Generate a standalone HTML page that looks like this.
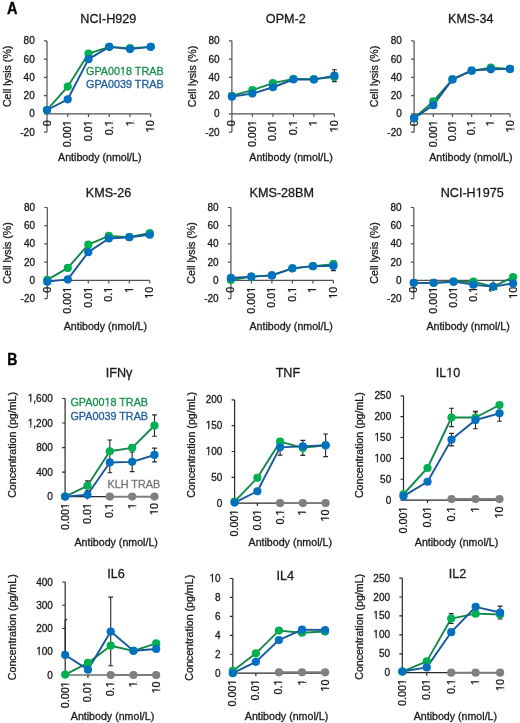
<!DOCTYPE html><html><head><meta charset="utf-8"><style>html,body{margin:0;padding:0;background:#fff;width:520px;height:723px;overflow:hidden}svg{display:block;font-family:"Liberation Sans",sans-serif;filter:blur(0.35px)}text{stroke-width:0.3px}</style></head><body>
<svg width="520" height="723" viewBox="0 0 520 723">
<rect width="520" height="723" fill="#fff"/>
<text transform="translate(6.9 13.5) scale(0.92 1)" font-size="15.8" font-weight="bold" fill="#000" stroke="#000">A</text>
<text transform="translate(7.3 364.7) scale(0.89 1)" font-size="15.8" font-weight="bold" fill="#000" stroke="#000">B</text>
<g stroke="#505050" stroke-width="1.2" fill="none">
<path d="M47 40.9V132.15"/>
<path d="M47 113.9H150.75"/>
<path d="M44 40.9H47M44 59.15H47M44 77.4H47M44 95.65H47M44 113.9H47M44 132.15H47M67.75 113.9V116.9M88.5 113.9V116.9M109.25 113.9V116.9M130 113.9V116.9M150.75 113.9V116.9"/>
</g>
<g transform="translate(34.7 44.4)"><text x="-11.12" y="0" font-size="10.0" fill="#1a1a1a" stroke="#1a1a1a">80</text></g>
<g transform="translate(34.7 62.65)"><text x="-11.12" y="0" font-size="10.0" fill="#1a1a1a" stroke="#1a1a1a">60</text></g>
<g transform="translate(34.7 80.9)"><text x="-11.12" y="0" font-size="10.0" fill="#1a1a1a" stroke="#1a1a1a">40</text></g>
<g transform="translate(34.7 99.15)"><text x="-11.12" y="0" font-size="10.0" fill="#1a1a1a" stroke="#1a1a1a">20</text></g>
<g transform="translate(34.7 117.4)"><text x="-5.56" y="0" font-size="10.0" fill="#1a1a1a" stroke="#1a1a1a">0</text></g>
<g transform="translate(34.7 135.65)"><text x="-14.45" y="0" font-size="10.0" fill="#1a1a1a" stroke="#1a1a1a">-20</text></g>
<g transform="translate(50.5 120.3) rotate(-90) scale(1 0.93)"><text x="-5.98" y="0" font-size="10.75" fill="#1a1a1a" stroke="#1a1a1a">0</text></g>
<g transform="translate(71.25 120.3) rotate(-90) scale(1 0.93)"><text x="-26.9" y="0" font-size="10.75" fill="#1a1a1a" stroke="#1a1a1a">0.001</text><rect x="-5.66" y="-1.57" width="2.31" height="2.36" fill="#fff"/><rect x="-2.25" y="-1.57" width="2.15" height="2.36" fill="#fff"/></g>
<g transform="translate(92 120.3) rotate(-90) scale(1 0.93)"><text x="-20.92" y="0" font-size="10.75" fill="#1a1a1a" stroke="#1a1a1a">0.01</text><rect x="-5.66" y="-1.57" width="2.31" height="2.36" fill="#fff"/><rect x="-2.25" y="-1.57" width="2.15" height="2.36" fill="#fff"/></g>
<g transform="translate(112.75 120.3) rotate(-90) scale(1 0.93)"><text x="-14.94" y="0" font-size="10.75" fill="#1a1a1a" stroke="#1a1a1a">0.1</text><rect x="-5.66" y="-1.57" width="2.31" height="2.36" fill="#fff"/><rect x="-2.25" y="-1.57" width="2.15" height="2.36" fill="#fff"/></g>
<g transform="translate(133.5 120.3) rotate(-90) scale(1 0.93)"><text x="-5.98" y="0" font-size="10.75" fill="#1a1a1a" stroke="#1a1a1a">1</text><rect x="-5.66" y="-1.57" width="2.31" height="2.36" fill="#fff"/><rect x="-2.25" y="-1.57" width="2.15" height="2.36" fill="#fff"/></g>
<g transform="translate(154.25 120.3) rotate(-90) scale(1 0.93)"><text x="-11.96" y="0" font-size="10.75" fill="#1a1a1a" stroke="#1a1a1a">10</text><rect x="-11.64" y="-1.57" width="2.31" height="2.36" fill="#fff"/><rect x="-8.23" y="-1.57" width="2.15" height="2.36" fill="#fff"/></g>
<g transform="translate(108.3 22.9)"><text x="-28.01" y="0" font-size="12.6" fill="#1a1a1a" stroke="#1a1a1a">NCI-H929</text></g>
<g transform="translate(10.8 76.3) rotate(-90)"><text x="-30.77" y="0" font-size="10.65" fill="#1a1a1a" stroke="#1a1a1a">Cell lysis (%)</text></g>
<g transform="translate(99.8 161.2)"><text x="-41.73" y="0" font-size="10.65" fill="#1a1a1a" stroke="#1a1a1a">Antibody (nmol/L)</text></g>
<polyline points="47,109.98 67.75,86.53 88.5,53.68 109.25,46.83 130,48.2 150.75,46.83" fill="none" stroke="#12884A" stroke-width="1.9" stroke-linejoin="round"/>
<polyline points="47,109.98 67.75,99.3 88.5,59.15 109.25,46.83 130,49.11 150.75,46.83" fill="none" stroke="#17589C" stroke-width="1.9" stroke-linejoin="round"/>
<g fill="#00B050">
<circle cx="47" cy="109.98" r="4.1"/>
<circle cx="67.75" cy="86.53" r="4.1"/>
<circle cx="88.5" cy="53.68" r="4.1"/>
<circle cx="109.25" cy="46.83" r="4.1"/>
<circle cx="130" cy="48.2" r="4.1"/>
<circle cx="150.75" cy="46.83" r="4.1"/>
</g>
<g fill="#0070C0">
<circle cx="47" cy="109.98" r="4.1"/>
<circle cx="67.75" cy="99.3" r="4.1"/>
<circle cx="88.5" cy="59.15" r="4.1"/>
<circle cx="109.25" cy="46.83" r="4.1"/>
<circle cx="130" cy="49.11" r="4.1"/>
<circle cx="150.75" cy="46.83" r="4.1"/>
</g>
<g stroke="#505050" stroke-width="1.2" fill="none">
<path d="M231.9 40.8V132.05"/>
<path d="M231.9 113.8H334.4"/>
<path d="M228.9 40.8H231.9M228.9 59.05H231.9M228.9 77.3H231.9M228.9 95.55H231.9M228.9 113.8H231.9M228.9 132.05H231.9M252.4 113.8V116.8M272.9 113.8V116.8M293.4 113.8V116.8M313.9 113.8V116.8M334.4 113.8V116.8"/>
</g>
<g transform="translate(219.6 44.3)"><text x="-11.12" y="0" font-size="10.0" fill="#1a1a1a" stroke="#1a1a1a">80</text></g>
<g transform="translate(219.6 62.55)"><text x="-11.12" y="0" font-size="10.0" fill="#1a1a1a" stroke="#1a1a1a">60</text></g>
<g transform="translate(219.6 80.8)"><text x="-11.12" y="0" font-size="10.0" fill="#1a1a1a" stroke="#1a1a1a">40</text></g>
<g transform="translate(219.6 99.05)"><text x="-11.12" y="0" font-size="10.0" fill="#1a1a1a" stroke="#1a1a1a">20</text></g>
<g transform="translate(219.6 117.3)"><text x="-5.56" y="0" font-size="10.0" fill="#1a1a1a" stroke="#1a1a1a">0</text></g>
<g transform="translate(219.6 135.55)"><text x="-14.45" y="0" font-size="10.0" fill="#1a1a1a" stroke="#1a1a1a">-20</text></g>
<g transform="translate(235.4 120.2) rotate(-90) scale(1 0.93)"><text x="-5.98" y="0" font-size="10.75" fill="#1a1a1a" stroke="#1a1a1a">0</text></g>
<g transform="translate(255.9 120.2) rotate(-90) scale(1 0.93)"><text x="-26.9" y="0" font-size="10.75" fill="#1a1a1a" stroke="#1a1a1a">0.001</text><rect x="-5.66" y="-1.57" width="2.31" height="2.36" fill="#fff"/><rect x="-2.25" y="-1.57" width="2.15" height="2.36" fill="#fff"/></g>
<g transform="translate(276.4 120.2) rotate(-90) scale(1 0.93)"><text x="-20.92" y="0" font-size="10.75" fill="#1a1a1a" stroke="#1a1a1a">0.01</text><rect x="-5.66" y="-1.57" width="2.31" height="2.36" fill="#fff"/><rect x="-2.25" y="-1.57" width="2.15" height="2.36" fill="#fff"/></g>
<g transform="translate(296.9 120.2) rotate(-90) scale(1 0.93)"><text x="-14.94" y="0" font-size="10.75" fill="#1a1a1a" stroke="#1a1a1a">0.1</text><rect x="-5.66" y="-1.57" width="2.31" height="2.36" fill="#fff"/><rect x="-2.25" y="-1.57" width="2.15" height="2.36" fill="#fff"/></g>
<g transform="translate(317.4 120.2) rotate(-90) scale(1 0.93)"><text x="-5.98" y="0" font-size="10.75" fill="#1a1a1a" stroke="#1a1a1a">1</text><rect x="-5.66" y="-1.57" width="2.31" height="2.36" fill="#fff"/><rect x="-2.25" y="-1.57" width="2.15" height="2.36" fill="#fff"/></g>
<g transform="translate(337.9 120.2) rotate(-90) scale(1 0.93)"><text x="-11.96" y="0" font-size="10.75" fill="#1a1a1a" stroke="#1a1a1a">10</text><rect x="-11.64" y="-1.57" width="2.31" height="2.36" fill="#fff"/><rect x="-8.23" y="-1.57" width="2.15" height="2.36" fill="#fff"/></g>
<g transform="translate(285.8 22.9)"><text x="-19.95" y="0" font-size="12.6" fill="#1a1a1a" stroke="#1a1a1a">OPM-2</text></g>
<g transform="translate(195.8 76.5) rotate(-90)"><text x="-30.77" y="0" font-size="10.65" fill="#1a1a1a" stroke="#1a1a1a">Cell lysis (%)</text></g>
<g transform="translate(291 161.25)"><text x="-41.73" y="0" font-size="10.65" fill="#1a1a1a" stroke="#1a1a1a">Antibody (nmol/L)</text></g>
<polyline points="231.9,95.73 252.4,90.08 272.9,83.14 293.4,78.94 313.9,79.12 334.4,77.12" fill="none" stroke="#12884A" stroke-width="1.9" stroke-linejoin="round"/>
<polyline points="231.9,96.64 252.4,93.54 272.9,87.25 293.4,79.49 313.9,79.58 334.4,75.66" fill="none" stroke="#17589C" stroke-width="1.9" stroke-linejoin="round"/>
<path d="M334.4 69.73V81.59M332 69.73H336.8M332 81.59H336.8" stroke="#262626" stroke-width="1.1" fill="none"/>
<g fill="#00B050">
<circle cx="231.9" cy="95.73" r="4.1"/>
<circle cx="252.4" cy="90.08" r="4.1"/>
<circle cx="272.9" cy="83.14" r="4.1"/>
<circle cx="293.4" cy="78.94" r="4.1"/>
<circle cx="313.9" cy="79.12" r="4.1"/>
<circle cx="334.4" cy="77.12" r="4.1"/>
</g>
<g fill="#0070C0">
<circle cx="231.9" cy="96.64" r="4.1"/>
<circle cx="252.4" cy="93.54" r="4.1"/>
<circle cx="272.9" cy="87.25" r="4.1"/>
<circle cx="293.4" cy="79.49" r="4.1"/>
<circle cx="313.9" cy="79.58" r="4.1"/>
<circle cx="334.4" cy="75.66" r="4.1"/>
</g>
<g stroke="#505050" stroke-width="1.2" fill="none">
<path d="M414.1 40.9V132.15"/>
<path d="M414.1 113.9H510"/>
<path d="M411.1 40.9H414.1M411.1 59.15H414.1M411.1 77.4H414.1M411.1 95.65H414.1M411.1 113.9H414.1M411.1 132.15H414.1M433.28 113.9V116.9M452.46 113.9V116.9M471.64 113.9V116.9M490.82 113.9V116.9M510 113.9V116.9"/>
</g>
<g transform="translate(401.8 44.4)"><text x="-11.12" y="0" font-size="10.0" fill="#1a1a1a" stroke="#1a1a1a">80</text></g>
<g transform="translate(401.8 62.65)"><text x="-11.12" y="0" font-size="10.0" fill="#1a1a1a" stroke="#1a1a1a">60</text></g>
<g transform="translate(401.8 80.9)"><text x="-11.12" y="0" font-size="10.0" fill="#1a1a1a" stroke="#1a1a1a">40</text></g>
<g transform="translate(401.8 99.15)"><text x="-11.12" y="0" font-size="10.0" fill="#1a1a1a" stroke="#1a1a1a">20</text></g>
<g transform="translate(401.8 117.4)"><text x="-5.56" y="0" font-size="10.0" fill="#1a1a1a" stroke="#1a1a1a">0</text></g>
<g transform="translate(401.8 135.65)"><text x="-14.45" y="0" font-size="10.0" fill="#1a1a1a" stroke="#1a1a1a">-20</text></g>
<g transform="translate(417.6 120.3) rotate(-90) scale(1 0.93)"><text x="-5.98" y="0" font-size="10.75" fill="#1a1a1a" stroke="#1a1a1a">0</text></g>
<g transform="translate(436.78 120.3) rotate(-90) scale(1 0.93)"><text x="-26.9" y="0" font-size="10.75" fill="#1a1a1a" stroke="#1a1a1a">0.001</text><rect x="-5.66" y="-1.57" width="2.31" height="2.36" fill="#fff"/><rect x="-2.25" y="-1.57" width="2.15" height="2.36" fill="#fff"/></g>
<g transform="translate(455.96 120.3) rotate(-90) scale(1 0.93)"><text x="-20.92" y="0" font-size="10.75" fill="#1a1a1a" stroke="#1a1a1a">0.01</text><rect x="-5.66" y="-1.57" width="2.31" height="2.36" fill="#fff"/><rect x="-2.25" y="-1.57" width="2.15" height="2.36" fill="#fff"/></g>
<g transform="translate(475.14 120.3) rotate(-90) scale(1 0.93)"><text x="-14.94" y="0" font-size="10.75" fill="#1a1a1a" stroke="#1a1a1a">0.1</text><rect x="-5.66" y="-1.57" width="2.31" height="2.36" fill="#fff"/><rect x="-2.25" y="-1.57" width="2.15" height="2.36" fill="#fff"/></g>
<g transform="translate(494.32 120.3) rotate(-90) scale(1 0.93)"><text x="-5.98" y="0" font-size="10.75" fill="#1a1a1a" stroke="#1a1a1a">1</text><rect x="-5.66" y="-1.57" width="2.31" height="2.36" fill="#fff"/><rect x="-2.25" y="-1.57" width="2.15" height="2.36" fill="#fff"/></g>
<g transform="translate(513.5 120.3) rotate(-90) scale(1 0.93)"><text x="-11.96" y="0" font-size="10.75" fill="#1a1a1a" stroke="#1a1a1a">10</text><rect x="-11.64" y="-1.57" width="2.31" height="2.36" fill="#fff"/><rect x="-8.23" y="-1.57" width="2.15" height="2.36" fill="#fff"/></g>
<g transform="translate(470.8 22.9)"><text x="-22.76" y="0" font-size="12.6" fill="#1a1a1a" stroke="#1a1a1a">KMS-34</text></g>
<g transform="translate(378 76.5) rotate(-90)"><text x="-30.77" y="0" font-size="10.65" fill="#1a1a1a" stroke="#1a1a1a">Cell lysis (%)</text></g>
<g transform="translate(470.9 161.25)"><text x="-41.73" y="0" font-size="10.65" fill="#1a1a1a" stroke="#1a1a1a">Antibody (nmol/L)</text></g>
<polyline points="414.1,118.19 433.28,101.4 452.46,79.41 471.64,70.65 490.82,67.64 510,68.91" fill="none" stroke="#12884A" stroke-width="1.9" stroke-linejoin="round"/>
<polyline points="414.1,118.19 433.28,105.14 452.46,79.41 471.64,70.65 490.82,69.37 510,68.91" fill="none" stroke="#17589C" stroke-width="1.9" stroke-linejoin="round"/>
<g fill="#00B050">
<circle cx="414.1" cy="118.19" r="4.1"/>
<circle cx="433.28" cy="101.4" r="4.1"/>
<circle cx="452.46" cy="79.41" r="4.1"/>
<circle cx="471.64" cy="70.65" r="4.1"/>
<circle cx="490.82" cy="67.64" r="4.1"/>
<circle cx="510" cy="68.91" r="4.1"/>
</g>
<g fill="#0070C0">
<circle cx="414.1" cy="118.19" r="4.1"/>
<circle cx="433.28" cy="105.14" r="4.1"/>
<circle cx="452.46" cy="79.41" r="4.1"/>
<circle cx="471.64" cy="70.65" r="4.1"/>
<circle cx="490.82" cy="69.37" r="4.1"/>
<circle cx="510" cy="68.91" r="4.1"/>
</g>
<g stroke="#505050" stroke-width="1.2" fill="none">
<path d="M47.3 207.5V298.62"/>
<path d="M47.3 280.4H149.8"/>
<path d="M44.3 207.5H47.3M44.3 225.72H47.3M44.3 243.95H47.3M44.3 262.17H47.3M44.3 280.4H47.3M44.3 298.62H47.3M67.8 280.4V283.4M88.3 280.4V283.4M108.8 280.4V283.4M129.3 280.4V283.4M149.8 280.4V283.4"/>
</g>
<g transform="translate(35 211)"><text x="-11.12" y="0" font-size="10.0" fill="#1a1a1a" stroke="#1a1a1a">80</text></g>
<g transform="translate(35 229.22)"><text x="-11.12" y="0" font-size="10.0" fill="#1a1a1a" stroke="#1a1a1a">60</text></g>
<g transform="translate(35 247.45)"><text x="-11.12" y="0" font-size="10.0" fill="#1a1a1a" stroke="#1a1a1a">40</text></g>
<g transform="translate(35 265.67)"><text x="-11.12" y="0" font-size="10.0" fill="#1a1a1a" stroke="#1a1a1a">20</text></g>
<g transform="translate(35 283.9)"><text x="-5.56" y="0" font-size="10.0" fill="#1a1a1a" stroke="#1a1a1a">0</text></g>
<g transform="translate(35 302.12)"><text x="-14.45" y="0" font-size="10.0" fill="#1a1a1a" stroke="#1a1a1a">-20</text></g>
<g transform="translate(50.8 286.8) rotate(-90) scale(1 0.93)"><text x="-5.98" y="0" font-size="10.75" fill="#1a1a1a" stroke="#1a1a1a">0</text></g>
<g transform="translate(71.3 286.8) rotate(-90) scale(1 0.93)"><text x="-26.9" y="0" font-size="10.75" fill="#1a1a1a" stroke="#1a1a1a">0.001</text><rect x="-5.66" y="-1.57" width="2.31" height="2.36" fill="#fff"/><rect x="-2.25" y="-1.57" width="2.15" height="2.36" fill="#fff"/></g>
<g transform="translate(91.8 286.8) rotate(-90) scale(1 0.93)"><text x="-20.92" y="0" font-size="10.75" fill="#1a1a1a" stroke="#1a1a1a">0.01</text><rect x="-5.66" y="-1.57" width="2.31" height="2.36" fill="#fff"/><rect x="-2.25" y="-1.57" width="2.15" height="2.36" fill="#fff"/></g>
<g transform="translate(112.3 286.8) rotate(-90) scale(1 0.93)"><text x="-14.94" y="0" font-size="10.75" fill="#1a1a1a" stroke="#1a1a1a">0.1</text><rect x="-5.66" y="-1.57" width="2.31" height="2.36" fill="#fff"/><rect x="-2.25" y="-1.57" width="2.15" height="2.36" fill="#fff"/></g>
<g transform="translate(132.8 286.8) rotate(-90) scale(1 0.93)"><text x="-5.98" y="0" font-size="10.75" fill="#1a1a1a" stroke="#1a1a1a">1</text><rect x="-5.66" y="-1.57" width="2.31" height="2.36" fill="#fff"/><rect x="-2.25" y="-1.57" width="2.15" height="2.36" fill="#fff"/></g>
<g transform="translate(153.3 286.8) rotate(-90) scale(1 0.93)"><text x="-11.96" y="0" font-size="10.75" fill="#1a1a1a" stroke="#1a1a1a">10</text><rect x="-11.64" y="-1.57" width="2.31" height="2.36" fill="#fff"/><rect x="-8.23" y="-1.57" width="2.15" height="2.36" fill="#fff"/></g>
<g transform="translate(108.5 196.7)"><text x="-22.76" y="0" font-size="12.6" fill="#1a1a1a" stroke="#1a1a1a">KMS-26</text></g>
<g transform="translate(10.8 252.9) rotate(-90)"><text x="-30.77" y="0" font-size="10.65" fill="#1a1a1a" stroke="#1a1a1a">Cell lysis (%)</text></g>
<g transform="translate(105.4 330)"><text x="-41.73" y="0" font-size="10.65" fill="#1a1a1a" stroke="#1a1a1a">Antibody (nmol/L)</text></g>
<polyline points="47.3,279.94 67.8,267.92 88.3,244.68 108.8,235.93 129.3,237.21 149.8,233.01" fill="none" stroke="#12884A" stroke-width="1.9" stroke-linejoin="round"/>
<polyline points="47.3,281.68 67.8,279.4 88.3,252.15 108.8,238.48 129.3,237.21 149.8,234.75" fill="none" stroke="#17589C" stroke-width="1.9" stroke-linejoin="round"/>
<g fill="#00B050">
<circle cx="47.3" cy="279.94" r="4.1"/>
<circle cx="67.8" cy="267.92" r="4.1"/>
<circle cx="88.3" cy="244.68" r="4.1"/>
<circle cx="108.8" cy="235.93" r="4.1"/>
<circle cx="129.3" cy="237.21" r="4.1"/>
<circle cx="149.8" cy="233.01" r="4.1"/>
</g>
<g fill="#0070C0">
<circle cx="47.3" cy="281.68" r="4.1"/>
<circle cx="67.8" cy="279.4" r="4.1"/>
<circle cx="88.3" cy="252.15" r="4.1"/>
<circle cx="108.8" cy="238.48" r="4.1"/>
<circle cx="129.3" cy="237.21" r="4.1"/>
<circle cx="149.8" cy="234.75" r="4.1"/>
</g>
<g stroke="#505050" stroke-width="1.2" fill="none">
<path d="M230.9 207.5V298.62"/>
<path d="M230.9 280.4H333.4"/>
<path d="M227.9 207.5H230.9M227.9 225.72H230.9M227.9 243.95H230.9M227.9 262.17H230.9M227.9 280.4H230.9M227.9 298.62H230.9M251.4 280.4V283.4M271.9 280.4V283.4M292.4 280.4V283.4M312.9 280.4V283.4M333.4 280.4V283.4"/>
</g>
<g transform="translate(218.6 211)"><text x="-11.12" y="0" font-size="10.0" fill="#1a1a1a" stroke="#1a1a1a">80</text></g>
<g transform="translate(218.6 229.22)"><text x="-11.12" y="0" font-size="10.0" fill="#1a1a1a" stroke="#1a1a1a">60</text></g>
<g transform="translate(218.6 247.45)"><text x="-11.12" y="0" font-size="10.0" fill="#1a1a1a" stroke="#1a1a1a">40</text></g>
<g transform="translate(218.6 265.67)"><text x="-11.12" y="0" font-size="10.0" fill="#1a1a1a" stroke="#1a1a1a">20</text></g>
<g transform="translate(218.6 283.9)"><text x="-5.56" y="0" font-size="10.0" fill="#1a1a1a" stroke="#1a1a1a">0</text></g>
<g transform="translate(218.6 302.12)"><text x="-14.45" y="0" font-size="10.0" fill="#1a1a1a" stroke="#1a1a1a">-20</text></g>
<g transform="translate(234.4 286.8) rotate(-90) scale(1 0.93)"><text x="-5.98" y="0" font-size="10.75" fill="#1a1a1a" stroke="#1a1a1a">0</text></g>
<g transform="translate(254.9 286.8) rotate(-90) scale(1 0.93)"><text x="-26.9" y="0" font-size="10.75" fill="#1a1a1a" stroke="#1a1a1a">0.001</text><rect x="-5.66" y="-1.57" width="2.31" height="2.36" fill="#fff"/><rect x="-2.25" y="-1.57" width="2.15" height="2.36" fill="#fff"/></g>
<g transform="translate(275.4 286.8) rotate(-90) scale(1 0.93)"><text x="-20.92" y="0" font-size="10.75" fill="#1a1a1a" stroke="#1a1a1a">0.01</text><rect x="-5.66" y="-1.57" width="2.31" height="2.36" fill="#fff"/><rect x="-2.25" y="-1.57" width="2.15" height="2.36" fill="#fff"/></g>
<g transform="translate(295.9 286.8) rotate(-90) scale(1 0.93)"><text x="-14.94" y="0" font-size="10.75" fill="#1a1a1a" stroke="#1a1a1a">0.1</text><rect x="-5.66" y="-1.57" width="2.31" height="2.36" fill="#fff"/><rect x="-2.25" y="-1.57" width="2.15" height="2.36" fill="#fff"/></g>
<g transform="translate(316.4 286.8) rotate(-90) scale(1 0.93)"><text x="-5.98" y="0" font-size="10.75" fill="#1a1a1a" stroke="#1a1a1a">1</text><rect x="-5.66" y="-1.57" width="2.31" height="2.36" fill="#fff"/><rect x="-2.25" y="-1.57" width="2.15" height="2.36" fill="#fff"/></g>
<g transform="translate(336.9 286.8) rotate(-90) scale(1 0.93)"><text x="-11.96" y="0" font-size="10.75" fill="#1a1a1a" stroke="#1a1a1a">10</text><rect x="-11.64" y="-1.57" width="2.31" height="2.36" fill="#fff"/><rect x="-8.23" y="-1.57" width="2.15" height="2.36" fill="#fff"/></g>
<g transform="translate(281.8 196.9)"><text x="-32.21" y="0" font-size="12.6" fill="#1a1a1a" stroke="#1a1a1a">KMS-28BM</text></g>
<g transform="translate(194.5 252.9) rotate(-90)"><text x="-30.77" y="0" font-size="10.65" fill="#1a1a1a" stroke="#1a1a1a">Cell lysis (%)</text></g>
<g transform="translate(291.2 330)"><text x="-41.73" y="0" font-size="10.65" fill="#1a1a1a" stroke="#1a1a1a">Antibody (nmol/L)</text></g>
<polyline points="230.9,279.94 251.4,276.66 271.9,275.39 292.4,268.37 312.9,266.18 333.4,264.18" fill="none" stroke="#12884A" stroke-width="1.9" stroke-linejoin="round"/>
<polyline points="230.9,277.94 251.4,276.66 271.9,275.39 292.4,268.37 312.9,266.18 333.4,265.91" fill="none" stroke="#17589C" stroke-width="1.9" stroke-linejoin="round"/>
<path d="M333.4 261.17V270.65M331 261.17H335.8M331 270.65H335.8" stroke="#262626" stroke-width="1.1" fill="none"/>
<g fill="#00B050">
<circle cx="230.9" cy="279.94" r="4.1"/>
<circle cx="251.4" cy="276.66" r="4.1"/>
<circle cx="271.9" cy="275.39" r="4.1"/>
<circle cx="292.4" cy="268.37" r="4.1"/>
<circle cx="312.9" cy="266.18" r="4.1"/>
<circle cx="333.4" cy="264.18" r="4.1"/>
</g>
<g fill="#0070C0">
<circle cx="230.9" cy="277.94" r="4.1"/>
<circle cx="251.4" cy="276.66" r="4.1"/>
<circle cx="271.9" cy="275.39" r="4.1"/>
<circle cx="292.4" cy="268.37" r="4.1"/>
<circle cx="312.9" cy="266.18" r="4.1"/>
<circle cx="333.4" cy="265.91" r="4.1"/>
</g>
<g stroke="#505050" stroke-width="1.2" fill="none">
<path d="M413.8 207.5V298.62"/>
<path d="M413.8 280.4H513.1"/>
<path d="M410.8 207.5H413.8M410.8 225.72H413.8M410.8 243.95H413.8M410.8 262.17H413.8M410.8 280.4H413.8M410.8 298.62H413.8M433.66 280.4V283.4M453.52 280.4V283.4M473.38 280.4V283.4M493.24 280.4V283.4M513.1 280.4V283.4"/>
</g>
<g transform="translate(401.5 211)"><text x="-11.12" y="0" font-size="10.0" fill="#1a1a1a" stroke="#1a1a1a">80</text></g>
<g transform="translate(401.5 229.22)"><text x="-11.12" y="0" font-size="10.0" fill="#1a1a1a" stroke="#1a1a1a">60</text></g>
<g transform="translate(401.5 247.45)"><text x="-11.12" y="0" font-size="10.0" fill="#1a1a1a" stroke="#1a1a1a">40</text></g>
<g transform="translate(401.5 265.67)"><text x="-11.12" y="0" font-size="10.0" fill="#1a1a1a" stroke="#1a1a1a">20</text></g>
<g transform="translate(401.5 283.9)"><text x="-5.56" y="0" font-size="10.0" fill="#1a1a1a" stroke="#1a1a1a">0</text></g>
<g transform="translate(401.5 302.12)"><text x="-14.45" y="0" font-size="10.0" fill="#1a1a1a" stroke="#1a1a1a">-20</text></g>
<g transform="translate(417.3 286.8) rotate(-90) scale(1 0.93)"><text x="-5.98" y="0" font-size="10.75" fill="#1a1a1a" stroke="#1a1a1a">0</text></g>
<g transform="translate(437.16 286.8) rotate(-90) scale(1 0.93)"><text x="-26.9" y="0" font-size="10.75" fill="#1a1a1a" stroke="#1a1a1a">0.001</text><rect x="-5.66" y="-1.57" width="2.31" height="2.36" fill="#fff"/><rect x="-2.25" y="-1.57" width="2.15" height="2.36" fill="#fff"/></g>
<g transform="translate(457.02 286.8) rotate(-90) scale(1 0.93)"><text x="-20.92" y="0" font-size="10.75" fill="#1a1a1a" stroke="#1a1a1a">0.01</text><rect x="-5.66" y="-1.57" width="2.31" height="2.36" fill="#fff"/><rect x="-2.25" y="-1.57" width="2.15" height="2.36" fill="#fff"/></g>
<g transform="translate(476.88 286.8) rotate(-90) scale(1 0.93)"><text x="-14.94" y="0" font-size="10.75" fill="#1a1a1a" stroke="#1a1a1a">0.1</text><rect x="-5.66" y="-1.57" width="2.31" height="2.36" fill="#fff"/><rect x="-2.25" y="-1.57" width="2.15" height="2.36" fill="#fff"/></g>
<g transform="translate(496.74 286.8) rotate(-90) scale(1 0.93)"><text x="-5.98" y="0" font-size="10.75" fill="#1a1a1a" stroke="#1a1a1a">1</text><rect x="-5.66" y="-1.57" width="2.31" height="2.36" fill="#fff"/><rect x="-2.25" y="-1.57" width="2.15" height="2.36" fill="#fff"/></g>
<g transform="translate(516.6 286.8) rotate(-90) scale(1 0.93)"><text x="-11.96" y="0" font-size="10.75" fill="#1a1a1a" stroke="#1a1a1a">10</text><rect x="-11.64" y="-1.57" width="2.31" height="2.36" fill="#fff"/><rect x="-8.23" y="-1.57" width="2.15" height="2.36" fill="#fff"/></g>
<g transform="translate(472.2 197.2)"><text x="-31.51" y="0" font-size="12.6" fill="#1a1a1a" stroke="#1a1a1a">NCI-H1975</text><rect x="3.85" y="-1.85" width="2.71" height="2.77" fill="#fff"/><rect x="7.86" y="-1.85" width="2.52" height="2.77" fill="#fff"/></g>
<g transform="translate(377.5 252.9) rotate(-90)"><text x="-30.77" y="0" font-size="10.65" fill="#1a1a1a" stroke="#1a1a1a">Cell lysis (%)</text></g>
<g transform="translate(468.1 330)"><text x="-41.73" y="0" font-size="10.65" fill="#1a1a1a" stroke="#1a1a1a">Antibody (nmol/L)</text></g>
<polyline points="413.8,282.86 433.66,282.86 453.52,281.68 473.38,281.68 493.24,286.6 513.1,277.12" fill="none" stroke="#12884A" stroke-width="1.9" stroke-linejoin="round"/>
<polyline points="413.8,282.86 433.66,282.86 453.52,281.68 473.38,284.68 493.24,286.6 513.1,283.41" fill="none" stroke="#17589C" stroke-width="1.9" stroke-linejoin="round"/>
<path d="M493.24 283.86V289.33M490.84 283.86H495.64M490.84 289.33H495.64" stroke="#262626" stroke-width="1.1" fill="none"/>
<g fill="#00B050">
<circle cx="413.8" cy="282.86" r="4.1"/>
<circle cx="433.66" cy="282.86" r="4.1"/>
<circle cx="453.52" cy="281.68" r="4.1"/>
<circle cx="473.38" cy="281.68" r="4.1"/>
<circle cx="493.24" cy="286.6" r="4.1"/>
<circle cx="513.1" cy="277.12" r="4.1"/>
</g>
<g fill="#0070C0">
<circle cx="413.8" cy="282.86" r="4.1"/>
<circle cx="433.66" cy="282.86" r="4.1"/>
<circle cx="453.52" cy="281.68" r="4.1"/>
<circle cx="473.38" cy="284.68" r="4.1"/>
<circle cx="493.24" cy="286.6" r="4.1"/>
<circle cx="513.1" cy="283.41" r="4.1"/>
</g>
<g stroke="#282828" stroke-width="1.2" fill="none">
<path d="M65.1 398.5V496.6"/>
<path d="M65.1 496.6H154.5"/>
<path d="M62.1 496.6H65.1M62.1 472.08H65.1M62.1 447.55H65.1M62.1 423.02H65.1M62.1 398.5H65.1M87.45 496.6V499.6M109.8 496.6V499.6M132.15 496.6V499.6M154.5 496.6V499.6"/>
</g>
<g transform="translate(52.8 500.1)"><text x="-5.56" y="0" font-size="10.0" fill="#1a1a1a" stroke="#1a1a1a">0</text></g>
<g transform="translate(52.8 475.58)"><text x="-16.68" y="0" font-size="10.0" fill="#1a1a1a" stroke="#1a1a1a">400</text></g>
<g transform="translate(52.8 451.05)"><text x="-16.68" y="0" font-size="10.0" fill="#1a1a1a" stroke="#1a1a1a">800</text></g>
<g transform="translate(52.8 426.52)"><text x="-25.02" y="0" font-size="10.0" fill="#1a1a1a" stroke="#1a1a1a">1,200</text><rect x="-24.73" y="-1.46" width="2.15" height="2.2" fill="#fff"/><rect x="-21.55" y="-1.46" width="2" height="2.2" fill="#fff"/></g>
<g transform="translate(52.8 402)"><text x="-25.02" y="0" font-size="10.0" fill="#1a1a1a" stroke="#1a1a1a">1,600</text><rect x="-24.73" y="-1.46" width="2.15" height="2.2" fill="#fff"/><rect x="-21.55" y="-1.46" width="2" height="2.2" fill="#fff"/></g>
<g transform="translate(68.6 503) rotate(-90) scale(1 0.93)"><text x="-26.9" y="0" font-size="10.75" fill="#1a1a1a" stroke="#1a1a1a">0.001</text><rect x="-5.66" y="-1.57" width="2.31" height="2.36" fill="#fff"/><rect x="-2.25" y="-1.57" width="2.15" height="2.36" fill="#fff"/></g>
<g transform="translate(90.95 503) rotate(-90) scale(1 0.93)"><text x="-20.92" y="0" font-size="10.75" fill="#1a1a1a" stroke="#1a1a1a">0.01</text><rect x="-5.66" y="-1.57" width="2.31" height="2.36" fill="#fff"/><rect x="-2.25" y="-1.57" width="2.15" height="2.36" fill="#fff"/></g>
<g transform="translate(113.3 503) rotate(-90) scale(1 0.93)"><text x="-14.94" y="0" font-size="10.75" fill="#1a1a1a" stroke="#1a1a1a">0.1</text><rect x="-5.66" y="-1.57" width="2.31" height="2.36" fill="#fff"/><rect x="-2.25" y="-1.57" width="2.15" height="2.36" fill="#fff"/></g>
<g transform="translate(135.65 503) rotate(-90) scale(1 0.93)"><text x="-5.98" y="0" font-size="10.75" fill="#1a1a1a" stroke="#1a1a1a">1</text><rect x="-5.66" y="-1.57" width="2.31" height="2.36" fill="#fff"/><rect x="-2.25" y="-1.57" width="2.15" height="2.36" fill="#fff"/></g>
<g transform="translate(158 503) rotate(-90) scale(1 0.93)"><text x="-11.96" y="0" font-size="10.75" fill="#1a1a1a" stroke="#1a1a1a">10</text><rect x="-11.64" y="-1.57" width="2.31" height="2.36" fill="#fff"/><rect x="-8.23" y="-1.57" width="2.15" height="2.36" fill="#fff"/></g>
<g transform="translate(119.1 376.8)"><text x="-13.3" y="0" font-size="12.6" fill="#1a1a1a" stroke="#1a1a1a">IFNγ</text></g>
<g transform="translate(16 444.9) rotate(-90)"><text x="-52.98" y="0" font-size="10.65" fill="#1a1a1a" stroke="#1a1a1a">Concentration (pg/mL)</text></g>
<g transform="translate(116.2 546.25)"><text x="-41.73" y="0" font-size="10.65" fill="#1a1a1a" stroke="#1a1a1a">Antibody (nmol/L)</text></g>
<polyline points="109.8,496.6 132.15,496.6 154.5,496.6" fill="none" stroke="#7c7c7c" stroke-width="1.9" stroke-linejoin="round"/>
<polyline points="65.1,496.6 87.45,485.81 109.8,451.23 132.15,447.86 154.5,425.54" fill="none" stroke="#12884A" stroke-width="1.9" stroke-linejoin="round"/>
<polyline points="65.1,496.6 87.45,494.82 109.8,462.45 132.15,461.84 154.5,454.97" fill="none" stroke="#17589C" stroke-width="1.9" stroke-linejoin="round"/>
<path d="M87.45 480.9V490.71M85.05 480.9H89.85M85.05 490.71H89.85M109.8 439.95V462.51M107.4 439.95H112.2M107.4 462.51H112.2M154.5 414.87V436.21M152.1 414.87H156.9M152.1 436.21H156.9M109.8 452.15V472.75M107.4 452.15H112.2M107.4 472.75H112.2M132.15 452.03V471.65M129.75 452.03H134.55M129.75 471.65H134.55M154.5 448.1V461.84M152.1 448.1H156.9M152.1 461.84H156.9" stroke="#262626" stroke-width="1.1" fill="none"/>
<g fill="#808080">
<circle cx="109.8" cy="496.6" r="4.1"/>
<circle cx="132.15" cy="496.6" r="4.1"/>
<circle cx="154.5" cy="496.6" r="4.1"/>
</g>
<g fill="#00B050">
<circle cx="65.1" cy="496.6" r="4.1"/>
<circle cx="87.45" cy="485.81" r="4.1"/>
<circle cx="109.8" cy="451.23" r="4.1"/>
<circle cx="132.15" cy="447.86" r="4.1"/>
<circle cx="154.5" cy="425.54" r="4.1"/>
</g>
<g fill="#0070C0">
<circle cx="65.1" cy="496.6" r="4.1"/>
<circle cx="87.45" cy="494.82" r="4.1"/>
<circle cx="109.8" cy="462.45" r="4.1"/>
<circle cx="132.15" cy="461.84" r="4.1"/>
<circle cx="154.5" cy="454.97" r="4.1"/>
</g>
<g stroke="#282828" stroke-width="1.2" fill="none">
<path d="M234.6 399.9V503.1"/>
<path d="M234.6 503.1H325.6"/>
<path d="M231.6 503.1H234.6M231.6 477.3H234.6M231.6 451.5H234.6M231.6 425.7H234.6M231.6 399.9H234.6M257.35 503.1V506.1M280.1 503.1V506.1M302.85 503.1V506.1M325.6 503.1V506.1"/>
</g>
<g transform="translate(222.3 506.6)"><text x="-5.56" y="0" font-size="10.0" fill="#1a1a1a" stroke="#1a1a1a">0</text></g>
<g transform="translate(222.3 480.8)"><text x="-11.12" y="0" font-size="10.0" fill="#1a1a1a" stroke="#1a1a1a">50</text></g>
<g transform="translate(222.3 455)"><text x="-16.68" y="0" font-size="10.0" fill="#1a1a1a" stroke="#1a1a1a">100</text><rect x="-16.39" y="-1.46" width="2.15" height="2.2" fill="#fff"/><rect x="-13.21" y="-1.46" width="2" height="2.2" fill="#fff"/></g>
<g transform="translate(222.3 429.2)"><text x="-16.68" y="0" font-size="10.0" fill="#1a1a1a" stroke="#1a1a1a">150</text><rect x="-16.39" y="-1.46" width="2.15" height="2.2" fill="#fff"/><rect x="-13.21" y="-1.46" width="2" height="2.2" fill="#fff"/></g>
<g transform="translate(222.3 403.4)"><text x="-16.68" y="0" font-size="10.0" fill="#1a1a1a" stroke="#1a1a1a">200</text></g>
<g transform="translate(238.1 509.5) rotate(-90) scale(1 0.93)"><text x="-26.9" y="0" font-size="10.75" fill="#1a1a1a" stroke="#1a1a1a">0.001</text><rect x="-5.66" y="-1.57" width="2.31" height="2.36" fill="#fff"/><rect x="-2.25" y="-1.57" width="2.15" height="2.36" fill="#fff"/></g>
<g transform="translate(260.85 509.5) rotate(-90) scale(1 0.93)"><text x="-20.92" y="0" font-size="10.75" fill="#1a1a1a" stroke="#1a1a1a">0.01</text><rect x="-5.66" y="-1.57" width="2.31" height="2.36" fill="#fff"/><rect x="-2.25" y="-1.57" width="2.15" height="2.36" fill="#fff"/></g>
<g transform="translate(283.6 509.5) rotate(-90) scale(1 0.93)"><text x="-14.94" y="0" font-size="10.75" fill="#1a1a1a" stroke="#1a1a1a">0.1</text><rect x="-5.66" y="-1.57" width="2.31" height="2.36" fill="#fff"/><rect x="-2.25" y="-1.57" width="2.15" height="2.36" fill="#fff"/></g>
<g transform="translate(306.35 509.5) rotate(-90) scale(1 0.93)"><text x="-5.98" y="0" font-size="10.75" fill="#1a1a1a" stroke="#1a1a1a">1</text><rect x="-5.66" y="-1.57" width="2.31" height="2.36" fill="#fff"/><rect x="-2.25" y="-1.57" width="2.15" height="2.36" fill="#fff"/></g>
<g transform="translate(329.1 509.5) rotate(-90) scale(1 0.93)"><text x="-11.96" y="0" font-size="10.75" fill="#1a1a1a" stroke="#1a1a1a">10</text><rect x="-11.64" y="-1.57" width="2.31" height="2.36" fill="#fff"/><rect x="-8.23" y="-1.57" width="2.15" height="2.36" fill="#fff"/></g>
<g transform="translate(287.9 377.1)"><text x="-12.25" y="0" font-size="12.6" fill="#1a1a1a" stroke="#1a1a1a">TNF</text></g>
<g transform="translate(194.5 444.9) rotate(-90)"><text x="-52.98" y="0" font-size="10.65" fill="#1a1a1a" stroke="#1a1a1a">Concentration (pg/mL)</text></g>
<g transform="translate(290.25 546.25)"><text x="-41.73" y="0" font-size="10.65" fill="#1a1a1a" stroke="#1a1a1a">Antibody (nmol/L)</text></g>
<polyline points="280.1,503.1 302.85,503.1 325.6,503.1" fill="none" stroke="#7c7c7c" stroke-width="1.9" stroke-linejoin="round"/>
<polyline points="234.6,501.55 257.35,477.82 280.1,441.7 302.85,447.89 325.6,445.31" fill="none" stroke="#12884A" stroke-width="1.9" stroke-linejoin="round"/>
<polyline points="234.6,502.58 257.35,491.23 280.1,447.37 302.85,446.34 325.6,445.31" fill="none" stroke="#17589C" stroke-width="1.9" stroke-linejoin="round"/>
<path d="M280.1 439.12V444.28M277.7 439.12H282.5M277.7 444.28H282.5M280.1 439.63V455.11M277.7 439.63H282.5M277.7 455.11H282.5M302.85 440.41V455.37M300.45 440.41H305.25M300.45 455.37H305.25M325.6 433.96V456.66M323.2 433.96H328M323.2 456.66H328" stroke="#262626" stroke-width="1.1" fill="none"/>
<g fill="#808080">
<circle cx="280.1" cy="503.1" r="4.1"/>
<circle cx="302.85" cy="503.1" r="4.1"/>
<circle cx="325.6" cy="503.1" r="4.1"/>
</g>
<g fill="#00B050">
<circle cx="234.6" cy="501.55" r="4.1"/>
<circle cx="257.35" cy="477.82" r="4.1"/>
<circle cx="280.1" cy="441.7" r="4.1"/>
<circle cx="302.85" cy="447.89" r="4.1"/>
<circle cx="325.6" cy="445.31" r="4.1"/>
</g>
<g fill="#0070C0">
<circle cx="234.6" cy="502.58" r="4.1"/>
<circle cx="257.35" cy="491.23" r="4.1"/>
<circle cx="280.1" cy="447.37" r="4.1"/>
<circle cx="302.85" cy="446.34" r="4.1"/>
<circle cx="325.6" cy="445.31" r="4.1"/>
</g>
<g stroke="#282828" stroke-width="1.2" fill="none">
<path d="M403.5 395.8V500.1"/>
<path d="M403.5 500.1H499.5"/>
<path d="M400.5 500.1H403.5M400.5 479.24H403.5M400.5 458.38H403.5M400.5 437.52H403.5M400.5 416.66H403.5M400.5 395.8H403.5M427.5 500.1V503.1M451.5 500.1V503.1M475.5 500.1V503.1M499.5 500.1V503.1"/>
</g>
<g transform="translate(391.2 503.6)"><text x="-5.56" y="0" font-size="10.0" fill="#1a1a1a" stroke="#1a1a1a">0</text></g>
<g transform="translate(391.2 482.74)"><text x="-11.12" y="0" font-size="10.0" fill="#1a1a1a" stroke="#1a1a1a">50</text></g>
<g transform="translate(391.2 461.88)"><text x="-16.68" y="0" font-size="10.0" fill="#1a1a1a" stroke="#1a1a1a">100</text><rect x="-16.39" y="-1.46" width="2.15" height="2.2" fill="#fff"/><rect x="-13.21" y="-1.46" width="2" height="2.2" fill="#fff"/></g>
<g transform="translate(391.2 441.02)"><text x="-16.68" y="0" font-size="10.0" fill="#1a1a1a" stroke="#1a1a1a">150</text><rect x="-16.39" y="-1.46" width="2.15" height="2.2" fill="#fff"/><rect x="-13.21" y="-1.46" width="2" height="2.2" fill="#fff"/></g>
<g transform="translate(391.2 420.16)"><text x="-16.68" y="0" font-size="10.0" fill="#1a1a1a" stroke="#1a1a1a">200</text></g>
<g transform="translate(391.2 399.3)"><text x="-16.68" y="0" font-size="10.0" fill="#1a1a1a" stroke="#1a1a1a">250</text></g>
<g transform="translate(407 506.5) rotate(-90) scale(1 0.93)"><text x="-26.9" y="0" font-size="10.75" fill="#1a1a1a" stroke="#1a1a1a">0.001</text><rect x="-5.66" y="-1.57" width="2.31" height="2.36" fill="#fff"/><rect x="-2.25" y="-1.57" width="2.15" height="2.36" fill="#fff"/></g>
<g transform="translate(431 506.5) rotate(-90) scale(1 0.93)"><text x="-20.92" y="0" font-size="10.75" fill="#1a1a1a" stroke="#1a1a1a">0.01</text><rect x="-5.66" y="-1.57" width="2.31" height="2.36" fill="#fff"/><rect x="-2.25" y="-1.57" width="2.15" height="2.36" fill="#fff"/></g>
<g transform="translate(455 506.5) rotate(-90) scale(1 0.93)"><text x="-14.94" y="0" font-size="10.75" fill="#1a1a1a" stroke="#1a1a1a">0.1</text><rect x="-5.66" y="-1.57" width="2.31" height="2.36" fill="#fff"/><rect x="-2.25" y="-1.57" width="2.15" height="2.36" fill="#fff"/></g>
<g transform="translate(479 506.5) rotate(-90) scale(1 0.93)"><text x="-5.98" y="0" font-size="10.75" fill="#1a1a1a" stroke="#1a1a1a">1</text><rect x="-5.66" y="-1.57" width="2.31" height="2.36" fill="#fff"/><rect x="-2.25" y="-1.57" width="2.15" height="2.36" fill="#fff"/></g>
<g transform="translate(503 506.5) rotate(-90) scale(1 0.93)"><text x="-11.96" y="0" font-size="10.75" fill="#1a1a1a" stroke="#1a1a1a">10</text><rect x="-11.64" y="-1.57" width="2.31" height="2.36" fill="#fff"/><rect x="-8.23" y="-1.57" width="2.15" height="2.36" fill="#fff"/></g>
<g transform="translate(448 377.3)"><text x="-12.26" y="0" font-size="12.6" fill="#1a1a1a" stroke="#1a1a1a">IL10</text><rect x="-1.38" y="-1.85" width="2.71" height="2.77" fill="#fff"/><rect x="2.62" y="-1.85" width="2.52" height="2.77" fill="#fff"/></g>
<g transform="translate(363 445.1) rotate(-90)"><text x="-52.98" y="0" font-size="10.65" fill="#1a1a1a" stroke="#1a1a1a">Concentration (pg/mL)</text></g>
<g transform="translate(456.5 546.25)"><text x="-41.73" y="0" font-size="10.65" fill="#1a1a1a" stroke="#1a1a1a">Antibody (nmol/L)</text></g>
<polyline points="451.5,499.02 475.5,499.02 499.5,499.02" fill="none" stroke="#7c7c7c" stroke-width="1.9" stroke-linejoin="round"/>
<polyline points="403.5,494.26 427.5,467.98 451.5,417.49 475.5,417.49 499.5,404.98" fill="none" stroke="#12884A" stroke-width="1.9" stroke-linejoin="round"/>
<polyline points="403.5,496.14 427.5,481.74 451.5,439.61 475.5,420 499.5,413.32" fill="none" stroke="#17589C" stroke-width="1.9" stroke-linejoin="round"/>
<path d="M451.5 408.32V426.67M449.1 408.32H453.9M449.1 426.67H453.9M475.5 412.07V422.92M473.1 412.07H477.9M473.1 422.92H477.9M451.5 433.35V445.86M449.1 433.35H453.9M449.1 445.86H453.9M475.5 411.24V428.76M473.1 411.24H477.9M473.1 428.76H477.9M499.5 405.4V421.25M497.1 405.4H501.9M497.1 421.25H501.9" stroke="#262626" stroke-width="1.1" fill="none"/>
<g fill="#808080">
<circle cx="451.5" cy="499.02" r="4.1"/>
<circle cx="475.5" cy="499.02" r="4.1"/>
<circle cx="499.5" cy="499.02" r="4.1"/>
</g>
<g fill="#00B050">
<circle cx="403.5" cy="494.26" r="4.1"/>
<circle cx="427.5" cy="467.98" r="4.1"/>
<circle cx="451.5" cy="417.49" r="4.1"/>
<circle cx="475.5" cy="417.49" r="4.1"/>
<circle cx="499.5" cy="404.98" r="4.1"/>
</g>
<g fill="#0070C0">
<circle cx="403.5" cy="496.14" r="4.1"/>
<circle cx="427.5" cy="481.74" r="4.1"/>
<circle cx="451.5" cy="439.61" r="4.1"/>
<circle cx="475.5" cy="420" r="4.1"/>
<circle cx="499.5" cy="413.32" r="4.1"/>
</g>
<g stroke="#282828" stroke-width="1.2" fill="none">
<path d="M65.2 582V675"/>
<path d="M65.2 675H156.2"/>
<path d="M62.2 675H65.2M62.2 651.75H65.2M62.2 628.5H65.2M62.2 605.25H65.2M62.2 582H65.2M87.95 675V678M110.7 675V678M133.45 675V678M156.2 675V678"/>
</g>
<g transform="translate(52.9 678.5)"><text x="-5.56" y="0" font-size="10.0" fill="#1a1a1a" stroke="#1a1a1a">0</text></g>
<g transform="translate(52.9 655.25)"><text x="-16.68" y="0" font-size="10.0" fill="#1a1a1a" stroke="#1a1a1a">100</text><rect x="-16.39" y="-1.46" width="2.15" height="2.2" fill="#fff"/><rect x="-13.21" y="-1.46" width="2" height="2.2" fill="#fff"/></g>
<g transform="translate(52.9 632)"><text x="-16.68" y="0" font-size="10.0" fill="#1a1a1a" stroke="#1a1a1a">200</text></g>
<g transform="translate(52.9 608.75)"><text x="-16.68" y="0" font-size="10.0" fill="#1a1a1a" stroke="#1a1a1a">300</text></g>
<g transform="translate(52.9 585.5)"><text x="-16.68" y="0" font-size="10.0" fill="#1a1a1a" stroke="#1a1a1a">400</text></g>
<g transform="translate(68.7 681.4) rotate(-90) scale(1 0.93)"><text x="-26.9" y="0" font-size="10.75" fill="#1a1a1a" stroke="#1a1a1a">0.001</text><rect x="-5.66" y="-1.57" width="2.31" height="2.36" fill="#fff"/><rect x="-2.25" y="-1.57" width="2.15" height="2.36" fill="#fff"/></g>
<g transform="translate(91.45 681.4) rotate(-90) scale(1 0.93)"><text x="-20.92" y="0" font-size="10.75" fill="#1a1a1a" stroke="#1a1a1a">0.01</text><rect x="-5.66" y="-1.57" width="2.31" height="2.36" fill="#fff"/><rect x="-2.25" y="-1.57" width="2.15" height="2.36" fill="#fff"/></g>
<g transform="translate(114.2 681.4) rotate(-90) scale(1 0.93)"><text x="-14.94" y="0" font-size="10.75" fill="#1a1a1a" stroke="#1a1a1a">0.1</text><rect x="-5.66" y="-1.57" width="2.31" height="2.36" fill="#fff"/><rect x="-2.25" y="-1.57" width="2.15" height="2.36" fill="#fff"/></g>
<g transform="translate(136.95 681.4) rotate(-90) scale(1 0.93)"><text x="-5.98" y="0" font-size="10.75" fill="#1a1a1a" stroke="#1a1a1a">1</text><rect x="-5.66" y="-1.57" width="2.31" height="2.36" fill="#fff"/><rect x="-2.25" y="-1.57" width="2.15" height="2.36" fill="#fff"/></g>
<g transform="translate(159.7 681.4) rotate(-90) scale(1 0.93)"><text x="-11.96" y="0" font-size="10.75" fill="#1a1a1a" stroke="#1a1a1a">10</text><rect x="-11.64" y="-1.57" width="2.31" height="2.36" fill="#fff"/><rect x="-8.23" y="-1.57" width="2.15" height="2.36" fill="#fff"/></g>
<g transform="translate(115.9 578.1)"><text x="-8.76" y="0" font-size="12.6" fill="#1a1a1a" stroke="#1a1a1a">IL6</text></g>
<g transform="translate(16 627.2) rotate(-90)"><text x="-52.98" y="0" font-size="10.65" fill="#1a1a1a" stroke="#1a1a1a">Concentration (pg/mL)</text></g>
<g transform="translate(112.5 719.75)"><text x="-41.73" y="0" font-size="10.65" fill="#1a1a1a" stroke="#1a1a1a">Antibody (nmol/L)</text></g>
<polyline points="110.7,675 133.45,675 156.2,675" fill="none" stroke="#7c7c7c" stroke-width="1.9" stroke-linejoin="round"/>
<polyline points="65.2,674.53 87.95,662.91 110.7,645.71 133.45,650.82 156.2,643.38" fill="none" stroke="#12884A" stroke-width="1.9" stroke-linejoin="round"/>
<polyline points="65.2,655 87.95,669.65 110.7,631.52 133.45,650.82 156.2,648.96" fill="none" stroke="#17589C" stroke-width="1.9" stroke-linejoin="round"/>
<path d="M65.2 619.66V655M65.2 619.66H67.2M110.7 597.11V665.7M108.3 597.11H113.1M108.3 665.7H113.1" stroke="#262626" stroke-width="1.1" fill="none"/>
<g fill="#808080">
<circle cx="110.7" cy="675" r="4.1"/>
<circle cx="133.45" cy="675" r="4.1"/>
<circle cx="156.2" cy="675" r="4.1"/>
</g>
<g fill="#00B050">
<circle cx="65.2" cy="674.53" r="4.1"/>
<circle cx="87.95" cy="662.91" r="4.1"/>
<circle cx="110.7" cy="645.71" r="4.1"/>
<circle cx="133.45" cy="650.82" r="4.1"/>
<circle cx="156.2" cy="643.38" r="4.1"/>
</g>
<g fill="#0070C0">
<circle cx="65.2" cy="655" r="4.1"/>
<circle cx="87.95" cy="669.65" r="4.1"/>
<circle cx="110.7" cy="631.52" r="4.1"/>
<circle cx="133.45" cy="650.82" r="4.1"/>
<circle cx="156.2" cy="648.96" r="4.1"/>
</g>
<g stroke="#282828" stroke-width="1.2" fill="none">
<path d="M232.8 578.5V673.2"/>
<path d="M232.8 673.2H325.08"/>
<path d="M229.8 673.2H232.8M229.8 654.26H232.8M229.8 635.32H232.8M229.8 616.38H232.8M229.8 597.44H232.8M229.8 578.5H232.8M255.87 673.2V676.2M278.94 673.2V676.2M302.01 673.2V676.2M325.08 673.2V676.2"/>
</g>
<g transform="translate(220.5 676.7)"><text x="-5.56" y="0" font-size="10.0" fill="#1a1a1a" stroke="#1a1a1a">0</text></g>
<g transform="translate(220.5 657.76)"><text x="-5.56" y="0" font-size="10.0" fill="#1a1a1a" stroke="#1a1a1a">2</text></g>
<g transform="translate(220.5 638.82)"><text x="-5.56" y="0" font-size="10.0" fill="#1a1a1a" stroke="#1a1a1a">4</text></g>
<g transform="translate(220.5 619.88)"><text x="-5.56" y="0" font-size="10.0" fill="#1a1a1a" stroke="#1a1a1a">6</text></g>
<g transform="translate(220.5 600.94)"><text x="-5.56" y="0" font-size="10.0" fill="#1a1a1a" stroke="#1a1a1a">8</text></g>
<g transform="translate(220.5 582)"><text x="-11.12" y="0" font-size="10.0" fill="#1a1a1a" stroke="#1a1a1a">10</text><rect x="-10.83" y="-1.46" width="2.15" height="2.2" fill="#fff"/><rect x="-7.65" y="-1.46" width="2" height="2.2" fill="#fff"/></g>
<g transform="translate(236.3 679.6) rotate(-90) scale(1 0.93)"><text x="-26.9" y="0" font-size="10.75" fill="#1a1a1a" stroke="#1a1a1a">0.001</text><rect x="-5.66" y="-1.57" width="2.31" height="2.36" fill="#fff"/><rect x="-2.25" y="-1.57" width="2.15" height="2.36" fill="#fff"/></g>
<g transform="translate(259.37 679.6) rotate(-90) scale(1 0.93)"><text x="-20.92" y="0" font-size="10.75" fill="#1a1a1a" stroke="#1a1a1a">0.01</text><rect x="-5.66" y="-1.57" width="2.31" height="2.36" fill="#fff"/><rect x="-2.25" y="-1.57" width="2.15" height="2.36" fill="#fff"/></g>
<g transform="translate(282.44 679.6) rotate(-90) scale(1 0.93)"><text x="-14.94" y="0" font-size="10.75" fill="#1a1a1a" stroke="#1a1a1a">0.1</text><rect x="-5.66" y="-1.57" width="2.31" height="2.36" fill="#fff"/><rect x="-2.25" y="-1.57" width="2.15" height="2.36" fill="#fff"/></g>
<g transform="translate(305.51 679.6) rotate(-90) scale(1 0.93)"><text x="-5.98" y="0" font-size="10.75" fill="#1a1a1a" stroke="#1a1a1a">1</text><rect x="-5.66" y="-1.57" width="2.31" height="2.36" fill="#fff"/><rect x="-2.25" y="-1.57" width="2.15" height="2.36" fill="#fff"/></g>
<g transform="translate(328.58 679.6) rotate(-90) scale(1 0.93)"><text x="-11.96" y="0" font-size="10.75" fill="#1a1a1a" stroke="#1a1a1a">10</text><rect x="-11.64" y="-1.57" width="2.31" height="2.36" fill="#fff"/><rect x="-8.23" y="-1.57" width="2.15" height="2.36" fill="#fff"/></g>
<g transform="translate(285.3 579.7)"><text x="-8.76" y="0" font-size="12.6" fill="#1a1a1a" stroke="#1a1a1a">IL4</text></g>
<g transform="translate(193 627.7) rotate(-90)"><text x="-52.98" y="0" font-size="10.65" fill="#1a1a1a" stroke="#1a1a1a">Concentration (pg/mL)</text></g>
<g transform="translate(286.5 719.75)"><text x="-41.73" y="0" font-size="10.65" fill="#1a1a1a" stroke="#1a1a1a">Antibody (nmol/L)</text></g>
<polyline points="278.94,672.25 302.01,672.25 325.08,672.25" fill="none" stroke="#7c7c7c" stroke-width="1.9" stroke-linejoin="round"/>
<polyline points="232.8,670.93 255.87,653.31 278.94,630.59 302.01,632.76 325.08,631.53" fill="none" stroke="#12884A" stroke-width="1.9" stroke-linejoin="round"/>
<polyline points="232.8,673.2 255.87,661.84 278.94,640.06 302.01,629.64 325.08,630.02" fill="none" stroke="#17589C" stroke-width="1.9" stroke-linejoin="round"/>
<g fill="#808080">
<circle cx="278.94" cy="672.25" r="4.1"/>
<circle cx="302.01" cy="672.25" r="4.1"/>
<circle cx="325.08" cy="672.25" r="4.1"/>
</g>
<g fill="#00B050">
<circle cx="232.8" cy="670.93" r="4.1"/>
<circle cx="255.87" cy="653.31" r="4.1"/>
<circle cx="278.94" cy="630.59" r="4.1"/>
<circle cx="302.01" cy="632.76" r="4.1"/>
<circle cx="325.08" cy="631.53" r="4.1"/>
</g>
<g fill="#0070C0">
<circle cx="232.8" cy="673.2" r="4.1"/>
<circle cx="255.87" cy="661.84" r="4.1"/>
<circle cx="278.94" cy="640.06" r="4.1"/>
<circle cx="302.01" cy="629.64" r="4.1"/>
<circle cx="325.08" cy="630.02" r="4.1"/>
</g>
<g stroke="#282828" stroke-width="1.2" fill="none">
<path d="M402.3 578.1V672.7"/>
<path d="M402.3 672.7H500.1"/>
<path d="M399.3 672.7H402.3M399.3 653.78H402.3M399.3 634.86H402.3M399.3 615.94H402.3M399.3 597.02H402.3M399.3 578.1H402.3M426.75 672.7V675.7M451.2 672.7V675.7M475.65 672.7V675.7M500.1 672.7V675.7"/>
</g>
<g transform="translate(390 676.2)"><text x="-5.56" y="0" font-size="10.0" fill="#1a1a1a" stroke="#1a1a1a">0</text></g>
<g transform="translate(390 657.28)"><text x="-11.12" y="0" font-size="10.0" fill="#1a1a1a" stroke="#1a1a1a">50</text></g>
<g transform="translate(390 638.36)"><text x="-16.68" y="0" font-size="10.0" fill="#1a1a1a" stroke="#1a1a1a">100</text><rect x="-16.39" y="-1.46" width="2.15" height="2.2" fill="#fff"/><rect x="-13.21" y="-1.46" width="2" height="2.2" fill="#fff"/></g>
<g transform="translate(390 619.44)"><text x="-16.68" y="0" font-size="10.0" fill="#1a1a1a" stroke="#1a1a1a">150</text><rect x="-16.39" y="-1.46" width="2.15" height="2.2" fill="#fff"/><rect x="-13.21" y="-1.46" width="2" height="2.2" fill="#fff"/></g>
<g transform="translate(390 600.52)"><text x="-16.68" y="0" font-size="10.0" fill="#1a1a1a" stroke="#1a1a1a">200</text></g>
<g transform="translate(390 581.6)"><text x="-16.68" y="0" font-size="10.0" fill="#1a1a1a" stroke="#1a1a1a">250</text></g>
<g transform="translate(405.8 679.1) rotate(-90) scale(1 0.93)"><text x="-26.9" y="0" font-size="10.75" fill="#1a1a1a" stroke="#1a1a1a">0.001</text><rect x="-5.66" y="-1.57" width="2.31" height="2.36" fill="#fff"/><rect x="-2.25" y="-1.57" width="2.15" height="2.36" fill="#fff"/></g>
<g transform="translate(430.25 679.1) rotate(-90) scale(1 0.93)"><text x="-20.92" y="0" font-size="10.75" fill="#1a1a1a" stroke="#1a1a1a">0.01</text><rect x="-5.66" y="-1.57" width="2.31" height="2.36" fill="#fff"/><rect x="-2.25" y="-1.57" width="2.15" height="2.36" fill="#fff"/></g>
<g transform="translate(454.7 679.1) rotate(-90) scale(1 0.93)"><text x="-14.94" y="0" font-size="10.75" fill="#1a1a1a" stroke="#1a1a1a">0.1</text><rect x="-5.66" y="-1.57" width="2.31" height="2.36" fill="#fff"/><rect x="-2.25" y="-1.57" width="2.15" height="2.36" fill="#fff"/></g>
<g transform="translate(479.15 679.1) rotate(-90) scale(1 0.93)"><text x="-5.98" y="0" font-size="10.75" fill="#1a1a1a" stroke="#1a1a1a">1</text><rect x="-5.66" y="-1.57" width="2.31" height="2.36" fill="#fff"/><rect x="-2.25" y="-1.57" width="2.15" height="2.36" fill="#fff"/></g>
<g transform="translate(503.6 679.1) rotate(-90) scale(1 0.93)"><text x="-11.96" y="0" font-size="10.75" fill="#1a1a1a" stroke="#1a1a1a">10</text><rect x="-11.64" y="-1.57" width="2.31" height="2.36" fill="#fff"/><rect x="-8.23" y="-1.57" width="2.15" height="2.36" fill="#fff"/></g>
<g transform="translate(457.6 578.1)"><text x="-8.76" y="0" font-size="12.6" fill="#1a1a1a" stroke="#1a1a1a">IL2</text></g>
<g transform="translate(362.5 626.8) rotate(-90)"><text x="-52.98" y="0" font-size="10.65" fill="#1a1a1a" stroke="#1a1a1a">Concentration (pg/mL)</text></g>
<g transform="translate(455.4 719.75)"><text x="-41.73" y="0" font-size="10.65" fill="#1a1a1a" stroke="#1a1a1a">Antibody (nmol/L)</text></g>
<polyline points="451.2,672.7 475.65,672.7 500.1,672.7" fill="none" stroke="#7c7c7c" stroke-width="1.9" stroke-linejoin="round"/>
<polyline points="402.3,671.56 426.75,661.35 451.2,618.59 475.65,613.67 500.1,614.43" fill="none" stroke="#12884A" stroke-width="1.9" stroke-linejoin="round"/>
<polyline points="402.3,671.56 426.75,667.4 451.2,632.21 475.65,606.86 500.1,612.53" fill="none" stroke="#17589C" stroke-width="1.9" stroke-linejoin="round"/>
<path d="M451.2 613.67V623.51M448.8 613.67H453.6M448.8 623.51H453.6M500.1 606.1V618.97M497.7 606.1H502.5M497.7 618.97H502.5" stroke="#262626" stroke-width="1.1" fill="none"/>
<g fill="#808080">
<circle cx="451.2" cy="672.7" r="4.1"/>
<circle cx="475.65" cy="672.7" r="4.1"/>
<circle cx="500.1" cy="672.7" r="4.1"/>
</g>
<g fill="#00B050">
<circle cx="402.3" cy="671.56" r="4.1"/>
<circle cx="426.75" cy="661.35" r="4.1"/>
<circle cx="451.2" cy="618.59" r="4.1"/>
<circle cx="475.65" cy="613.67" r="4.1"/>
<circle cx="500.1" cy="614.43" r="4.1"/>
</g>
<g fill="#0070C0">
<circle cx="402.3" cy="671.56" r="4.1"/>
<circle cx="426.75" cy="667.4" r="4.1"/>
<circle cx="451.2" cy="632.21" r="4.1"/>
<circle cx="475.65" cy="606.86" r="4.1"/>
<circle cx="500.1" cy="612.53" r="4.1"/>
</g>
<g transform="translate(86 74.6)"><text x="0" y="0" font-size="10.8" fill="#15904F" stroke="#15904F">GPA0018 TRAB</text><rect x="34.34" y="-1.58" width="2.32" height="2.37" fill="#fff"/><rect x="37.77" y="-1.58" width="2.16" height="2.37" fill="#fff"/></g>
<g transform="translate(86 88.4)"><text x="0" y="0" font-size="10.8" fill="#2160A0" stroke="#2160A0">GPA0039 TRAB</text></g>
<g transform="translate(70.45 405.6)"><text x="0" y="0" font-size="10.8" fill="#15904F" stroke="#15904F">GPA0018 TRAB</text><rect x="34.34" y="-1.58" width="2.32" height="2.37" fill="#fff"/><rect x="37.77" y="-1.58" width="2.16" height="2.37" fill="#fff"/></g>
<g transform="translate(70.45 419.9)"><text x="0" y="0" font-size="10.8" fill="#2160A0" stroke="#2160A0">GPA0039 TRAB</text></g>
<g transform="translate(107.5 487.9)"><text x="0" y="0" font-size="10.8" fill="#747474" stroke="#747474">KLH TRAB</text></g>
</svg></body></html>
